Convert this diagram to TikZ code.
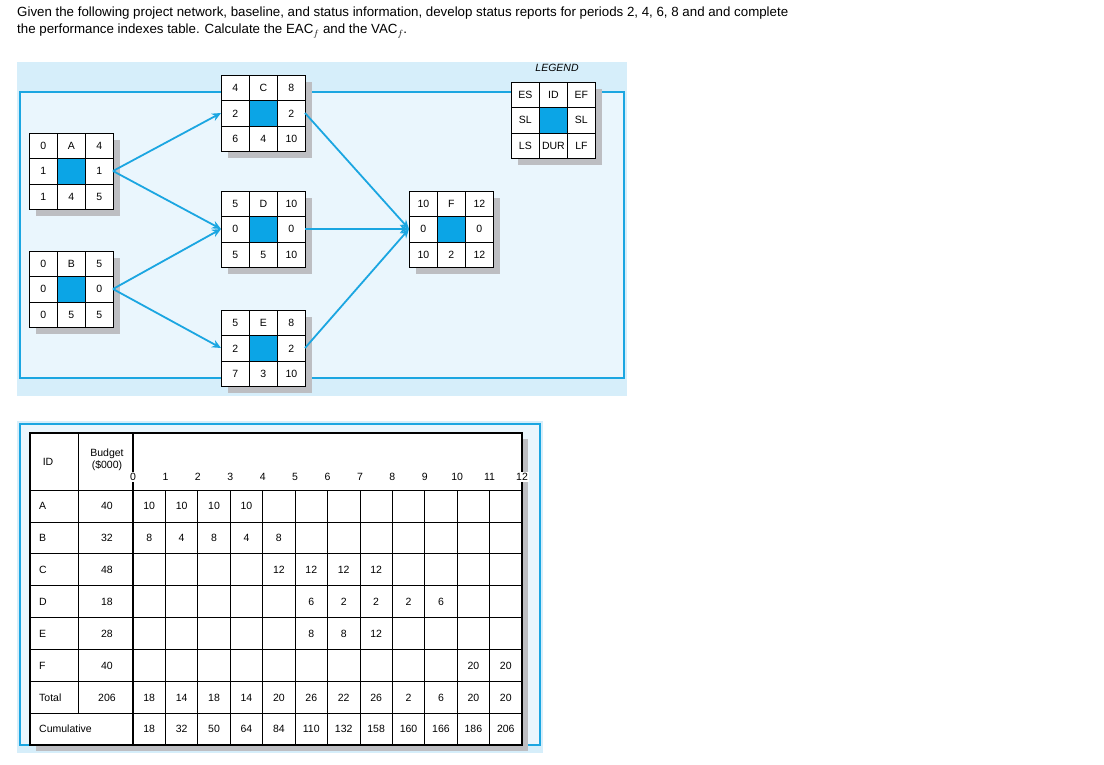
\documentclass[tikz,border=0pt]{standalone}
\usepackage{fontspec}
\setmainfont{Liberation Sans}
\usetikzlibrary{calc,arrows.meta}
\definecolor{bpanel}{HTML}{D6EEFA}
\definecolor{binner}{HTML}{EAF6FD}
\definecolor{bline}{HTML}{1BA6E1}
\definecolor{bfill}{HTML}{0BA5E6}
\definecolor{shad}{HTML}{BDBEC2}
\tikzset{
 cell/.style={draw=black,line width=0.8pt,fill=white,minimum width=28pt,minimum height=25.3pt,inner sep=0pt,anchor=north west,font=\fontsize{10.5}{12}\selectfont},
 arr/.style={draw=bline,line width=1.8pt,-{Stealth[length=9pt,width=8pt]}},
 tt/.style={font=\fontsize{10.5}{12}\selectfont,inner sep=1pt}
}
\newcommand\pnode[9]{%
 \fill[shad] ($(#1)+(7,7)$) rectangle ++(84,76);
 \node[cell] at ($(#1)+(0,0)$) {#2};
 \node[cell] at ($(#1)+(28,0)$) {#3};
 \node[cell] at ($(#1)+(56,0)$) {#4};
 \node[cell] at ($(#1)+(0,25.3)$) {#5};
 \node[cell,fill=bfill] at ($(#1)+(28,25.3)$) {};
 \node[cell] at ($(#1)+(56,25.3)$) {#6};
 \node[cell] at ($(#1)+(0,50.6)$) {#7};
 \node[cell] at ($(#1)+(28,50.6)$) {#8};
 \node[cell] at ($(#1)+(56,50.6)$) {#9};
 \coordinate (#1-l) at ($(#1)+(0,38)$);
 \coordinate (#1-r) at ($(#1)+(84,38)$);
}
\begin{document}
\begin{tikzpicture}[x=1pt,y=-1pt]
\useasboundingbox (0,0) rectangle (1104,765);
\node[anchor=west,inner sep=0pt,font=\fontsize{13.3}{16}\selectfont] (t1) at (17,13) {Given the following project network, baseline, and status information, develop status reports for periods 2, 4, 6, 8 and and complete};
\node[anchor=west,inner sep=0pt,font=\fontsize{13.3}{16}\selectfont] (t2) at (17,31) {the performance indexes table. Calculate the EAC$_f$ and the VAC$_f$.};
% network panel
\fill[bpanel] (17,62) rectangle (627,396);
\draw[bline,line width=1.8pt,fill=binner] (20,92) rectangle (624,378);
\coordinate (A) at (29,133);
\coordinate (B) at (29,251);
\coordinate (C) at (221,75);
\coordinate (D) at (221,191);
\coordinate (E) at (221,310);
\coordinate (F) at (409,191);
\coordinate (L) at (511,82);
\pnode{A}{0}{A}{4}{1}{1}{1}{4}{5}
\pnode{B}{0}{B}{5}{0}{0}{0}{5}{5}
\pnode{C}{4}{C}{8}{2}{2}{6}{4}{10}
\pnode{D}{5}{D}{10}{0}{0}{5}{5}{10}
\pnode{E}{5}{E}{8}{2}{2}{7}{3}{10}
\pnode{F}{10}{F}{12}{0}{0}{10}{2}{12}
\pnode{L}{ES}{ID}{EF}{SL}{SL}{LS}{DUR}{LF}
\node[font=\fontsize{10.5}{12}\selectfont\itshape] (lg) at (557,68) {LEGEND};
\draw[arr] (A-r) -- (C-l);
\draw[arr] (A-r) -- (D-l);
\draw[arr] (B-r) -- (D-l);
\draw[arr] (B-r) -- (E-l);
\draw[arr] (C-r) -- (F-l);
\draw[arr,line width=2.6pt] (D-r) -- (F-l);
\draw[arr] (E-r) -- (F-l);
% table panel
\fill[bpanel] (17,421) rectangle (543,753);
\draw[bline,line width=1.8pt,fill=binner] (20,424) rectangle (540,745);
\fill[shad] (36,439) rectangle (528,751);
\fill[white] (30,433) rectangle (522,745);
\foreach \i in {0,...,7} {\draw[line width=0.8pt] (30,{490+31.9*\i}) -- (522,{490+31.9*\i});}
\draw[line width=0.8pt] (78,433) -- (78,713);
\foreach \i in {1,...,11} {\draw[line width=0.8pt] ({133+32.42*\i},490) -- ({133+32.42*\i},745);}
\draw[line width=1.8pt] (133,433) -- (133,745);
\draw[line width=1.8pt] (30,433) rectangle (522,745);
\node[tt] (hid) at (48,462) {ID};
\node[tt,align=center] (hbud) at (107,460) {Budget\\(\$000)};
\foreach \i in {0,...,12} {\node[tt,fill=white] at ({133+32.42*\i},477) {\i};}
\foreach \r/\lab/\bud [count=\k from 0] in {A/A/40,B/B/32,C/C/48,D/D/18,E/E/28,F/F/40,T/Total/206} {
 \node[tt,anchor=west] at (38,{506+31.9*\k}) {\lab};
 \node[tt] at (107,{506+31.9*\k}) {\bud};
}
\node[tt,anchor=west] (cum) at (38,729) {Cumulative};
\newcommand\rowvals[2]{\foreach \v [count=\c from 0] in {#2} {\node[tt] at ({149.2+32.42*\c},{506+31.9*#1}) {\v};}}
\rowvals{0}{10,10,10,10}
\rowvals{1}{8,4,8,4,8}
\rowvals{2}{,,,,12,12,12,12}
\rowvals{3}{,,,,,6,2,2,2,6}
\rowvals{4}{,,,,,8,8,12}
\rowvals{5}{,,,,,,,,,,20,20}
\rowvals{6}{18,14,18,14,20,26,22,26,2,6,20,20}
\rowvals{7}{18,32,50,64,84,110,132,158,160,166,186,206}
\end{tikzpicture}
\end{document}
